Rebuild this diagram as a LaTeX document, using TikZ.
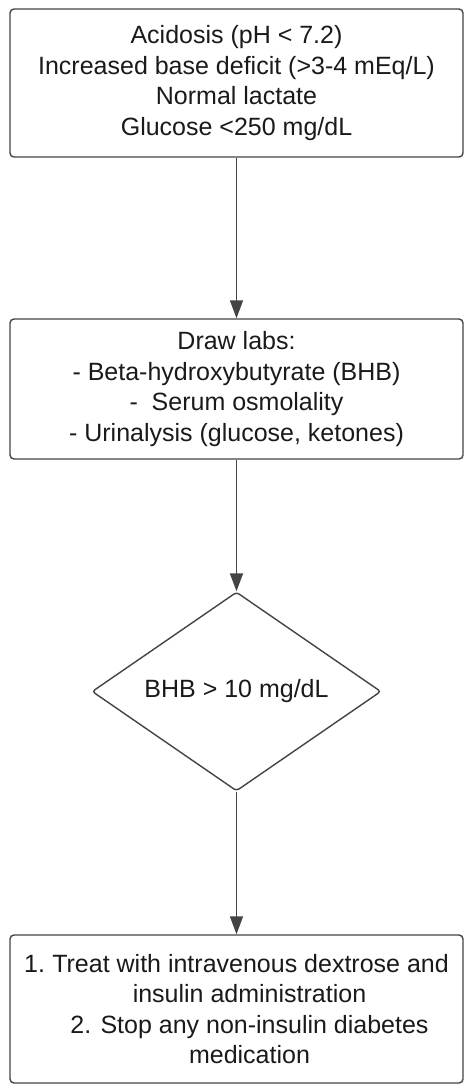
\documentclass[tikz,border=0pt]{standalone}
\usepackage{fontspec}
\setmainfont{Liberation Sans}
\usetikzlibrary{shapes.geometric,arrows.meta}
\definecolor{linec}{HTML}{444444}
\definecolor{textc}{HTML}{1A1A1A}
\begin{document}
\begin{tikzpicture}[x=1pt,y=-1pt,
  box/.style={draw=linec,line width=1.4pt,rounded corners=4pt,rectangle,
    minimum width=453pt,inner sep=2pt,align=center,text=textc,
    font=\fontsize{25}{30.5}\selectfont},
  decision/.style={draw=linec,line width=1.4pt,rounded corners=3pt,diamond,
    minimum width=289pt,minimum height=199pt,aspect=1.45,inner sep=0pt,
    text=textc,font=\fontsize{25}{30.5}\selectfont},
  arr/.style={draw=linec,line width=1.5pt,-{Triangle[length=18pt,width=13pt]}}]
\path[fill=white] (0,0) rectangle (474,1090);
\useasboundingbox (0,0) rectangle (474,1090);
\node[box,minimum height=148pt] (a) at (236.5,83) {Acidosis (pH < 7.2)\\Increased base deficit (>3-4 mEq/L)\\Normal lactate\\Glucose <250 mg/dL};
\node[box,minimum height=140pt] (b) at (236.5,389) {Draw labs:\\- Beta-hydroxybutyrate (BHB)\\-\ \ Serum osmolality\\- Urinalysis (glucose, ketones)};
\node[decision] (c) at (236.5,691.5) {BHB > 10 mg/dL};
\node[box,minimum height=148pt] (d) at (236.5,1009) {1.\hspace{-2pt} Treat with intravenous dextrose and\\\hspace*{26pt}insulin administration\\\hspace*{26pt}2. Stop any non-insulin diabetes\\\hspace*{26pt}medication};
\draw[arr] (a) -- (b);
\draw[arr] (b) -- (c);
\draw[arr] (c) -- (d);
\end{tikzpicture}
\end{document}
